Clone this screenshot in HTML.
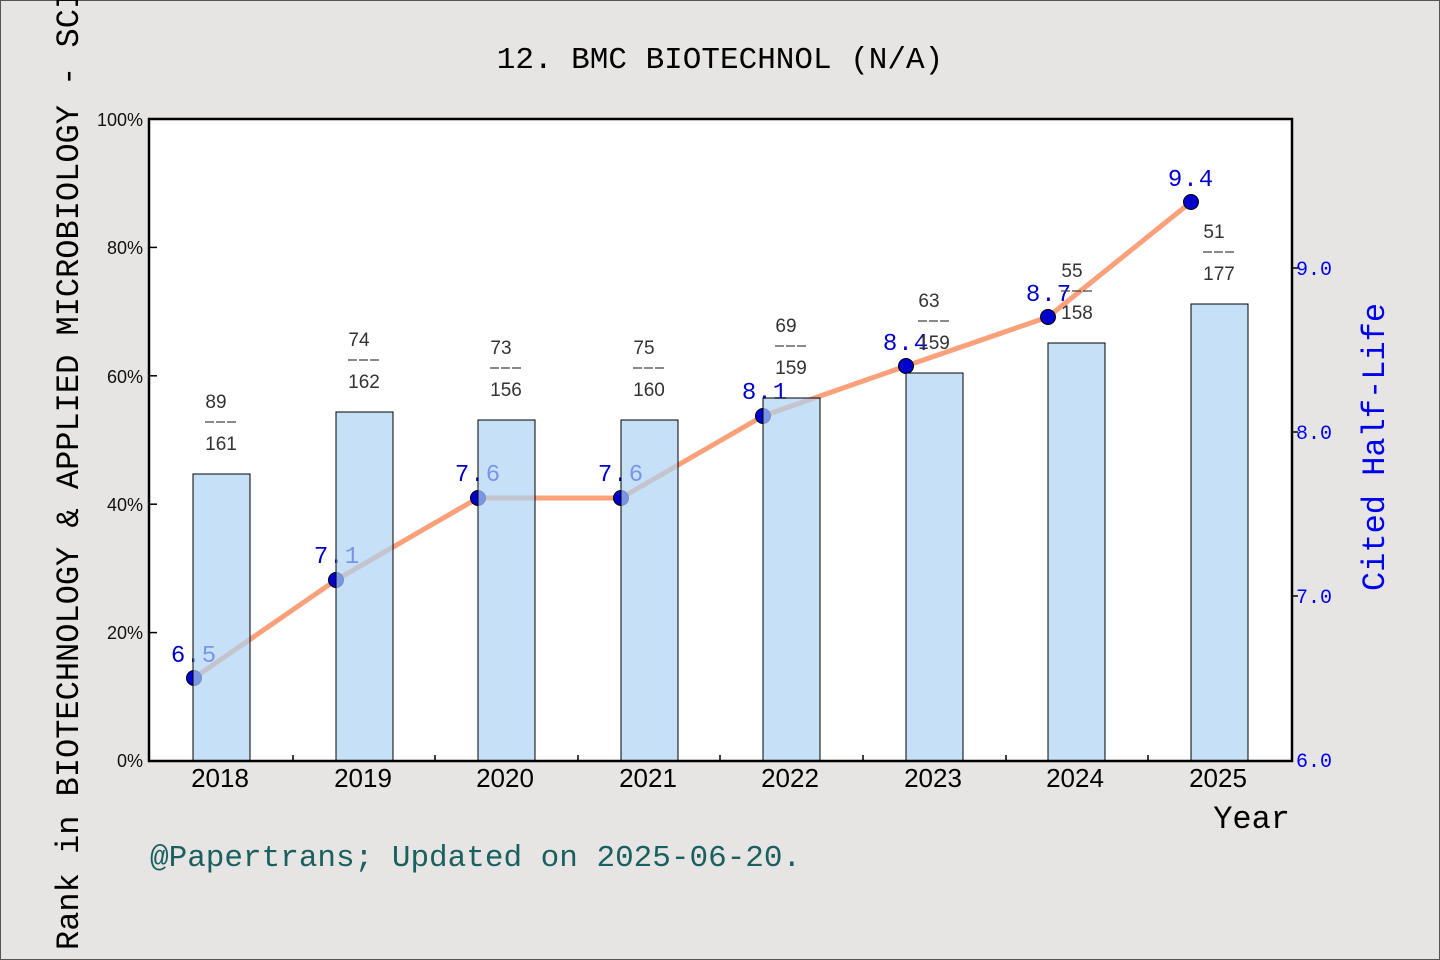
<!DOCTYPE html>
<html><head><meta charset="utf-8"><style>body{margin:0;background:#e6e5e3}svg{display:block}</style></head>
<body>
<svg width="1440" height="960" viewBox="0 0 1440 960" xmlns="http://www.w3.org/2000/svg">
<rect x="0.5" y="0.5" width="1439" height="959" fill="#e6e5e3" stroke="#555"/>
<rect x="149" y="119" width="1143" height="642" fill="#fff"/>
<text x="720" y="68" font-family="Liberation Mono, monospace" font-size="31" text-anchor="middle" fill="#000">12. BMC BIOTECHNOL (N/A)</text>
<g font-family="Liberation Sans, sans-serif" font-size="18" fill="#111" text-anchor="end">
<text x="143" y="126">100%</text><text x="143" y="254">80%</text><text x="143" y="383">60%</text><text x="143" y="511">40%</text><text x="143" y="639">20%</text><text x="143" y="767">0%</text>
</g>
<g stroke="#000" stroke-width="1.5">
<line x1="149" y1="247.4" x2="157" y2="247.4"/><line x1="149" y1="375.8" x2="157" y2="375.8"/><line x1="149" y1="504.2" x2="157" y2="504.2"/><line x1="149" y1="632.6" x2="157" y2="632.6"/>
<line x1="1292" y1="268" x2="1298" y2="268"/><line x1="1292" y1="432" x2="1298" y2="432"/><line x1="1292" y1="596" x2="1298" y2="596"/>
<line x1="293" y1="761" x2="293" y2="755"/><line x1="435" y1="761" x2="435" y2="755"/><line x1="578" y1="761" x2="578" y2="755"/><line x1="720" y1="761" x2="720" y2="755"/><line x1="863" y1="761" x2="863" y2="755"/><line x1="1006" y1="761" x2="1006" y2="755"/><line x1="1148" y1="761" x2="1148" y2="755"/>
</g>
<g font-family="Liberation Mono, monospace" font-size="20" fill="#0000ee">
<text x="1296" y="275">9.0</text><text x="1296" y="439">8.0</text><text x="1296" y="603">7.0</text><text x="1296" y="767">6.0</text>
</g>
<polyline points="194,678 336,580 478,498 621,498 763,416 906,366 1048,317 1191,202" fill="none" stroke="#fca07a" stroke-width="5" stroke-linejoin="round"/>
<g fill="#0000cc" stroke="#000" stroke-width="1">
<circle cx="194" cy="678" r="7.5"/><circle cx="336" cy="580" r="7.5"/><circle cx="478" cy="498" r="7.5"/><circle cx="621" cy="498" r="7.5"/><circle cx="763" cy="416" r="7.5"/><circle cx="906" cy="366" r="7.5"/><circle cx="1048" cy="317" r="7.5"/><circle cx="1191" cy="202" r="7.5"/>
</g>
<g font-family="Liberation Mono, monospace" font-size="24" fill="#0000cc" text-anchor="middle" letter-spacing="1">
<text x="194" y="662">6.5</text><text x="337" y="563">7.1</text><text x="478" y="481">7.6</text><text x="621" y="481">7.6</text><text x="765" y="399">8.1</text><text x="906" y="350">8.4</text><text x="1049" y="301">8.7</text><text x="1191" y="186">9.4</text>
</g>
<g font-family="Liberation Sans, sans-serif" font-size="19" fill="#333" text-anchor="middle">
<text x="216" y="408">89</text><text x="221" y="450">161</text>
<text x="359" y="346">74</text><text x="364" y="388">162</text>
<text x="501" y="354">73</text><text x="506" y="396">156</text>
<text x="644" y="354">75</text><text x="649" y="396">160</text>
<text x="786" y="332">69</text><text x="791" y="374">159</text>
<text x="929" y="307">63</text><text x="934" y="349">159</text>
<text x="1072" y="277">55</text><text x="1077" y="319">158</text>
<text x="1214" y="238">51</text><text x="1219" y="280">177</text>
</g>
<g stroke="#444" stroke-width="1.3" stroke-dasharray="9,2">
<line x1="205" y1="422" x2="237" y2="422"/><line x1="348" y1="360" x2="380" y2="360"/><line x1="490" y1="368" x2="522" y2="368"/><line x1="633" y1="368" x2="665" y2="368"/><line x1="775" y1="346" x2="807" y2="346"/><line x1="918" y1="321" x2="950" y2="321"/><line x1="1061" y1="291" x2="1093" y2="291"/><line x1="1203" y1="252" x2="1235" y2="252"/>
</g>
<g fill="rgba(172,211,244,0.7)" stroke="#000" stroke-width="1">
<rect x="193" y="474" width="57" height="287"/><rect x="336" y="412" width="57" height="349"/><rect x="478" y="420" width="57" height="341"/><rect x="621" y="420" width="57" height="341"/><rect x="763" y="398" width="57" height="363"/><rect x="906" y="373" width="57" height="388"/><rect x="1048" y="343" width="57" height="418"/><rect x="1191" y="304" width="57" height="457"/>
</g>
<rect x="149" y="119" width="1143" height="642" fill="none" stroke="#000" stroke-width="2.5"/>
<g font-family="Liberation Sans, sans-serif" font-size="26" fill="#000" text-anchor="middle">
<text x="220" y="787">2018</text><text x="363" y="787">2019</text><text x="505" y="787">2020</text><text x="648" y="787">2021</text><text x="790" y="787">2022</text><text x="933" y="787">2023</text><text x="1075" y="787">2024</text><text x="1218" y="787">2025</text>
</g>
<text x="1290" y="828" font-family="Liberation Mono, monospace" font-size="32" text-anchor="end" fill="#000">Year</text>
<text x="150" y="866" font-family="Liberation Mono, monospace" font-size="31" fill="#1a6060">@Papertrans; Updated on 2025-06-20.</text>
<text transform="translate(78,950) rotate(-90)" font-family="Liberation Mono, monospace" font-size="32" fill="#000">Rank in BIOTECHNOLOGY &amp; APPLIED MICROBIOLOGY - SCI</text>
<text transform="translate(1384,447) rotate(-90)" font-family="Liberation Mono, monospace" font-size="32" fill="#0000ee" text-anchor="middle">Cited Half-Life</text>
</svg>
</body></html>
